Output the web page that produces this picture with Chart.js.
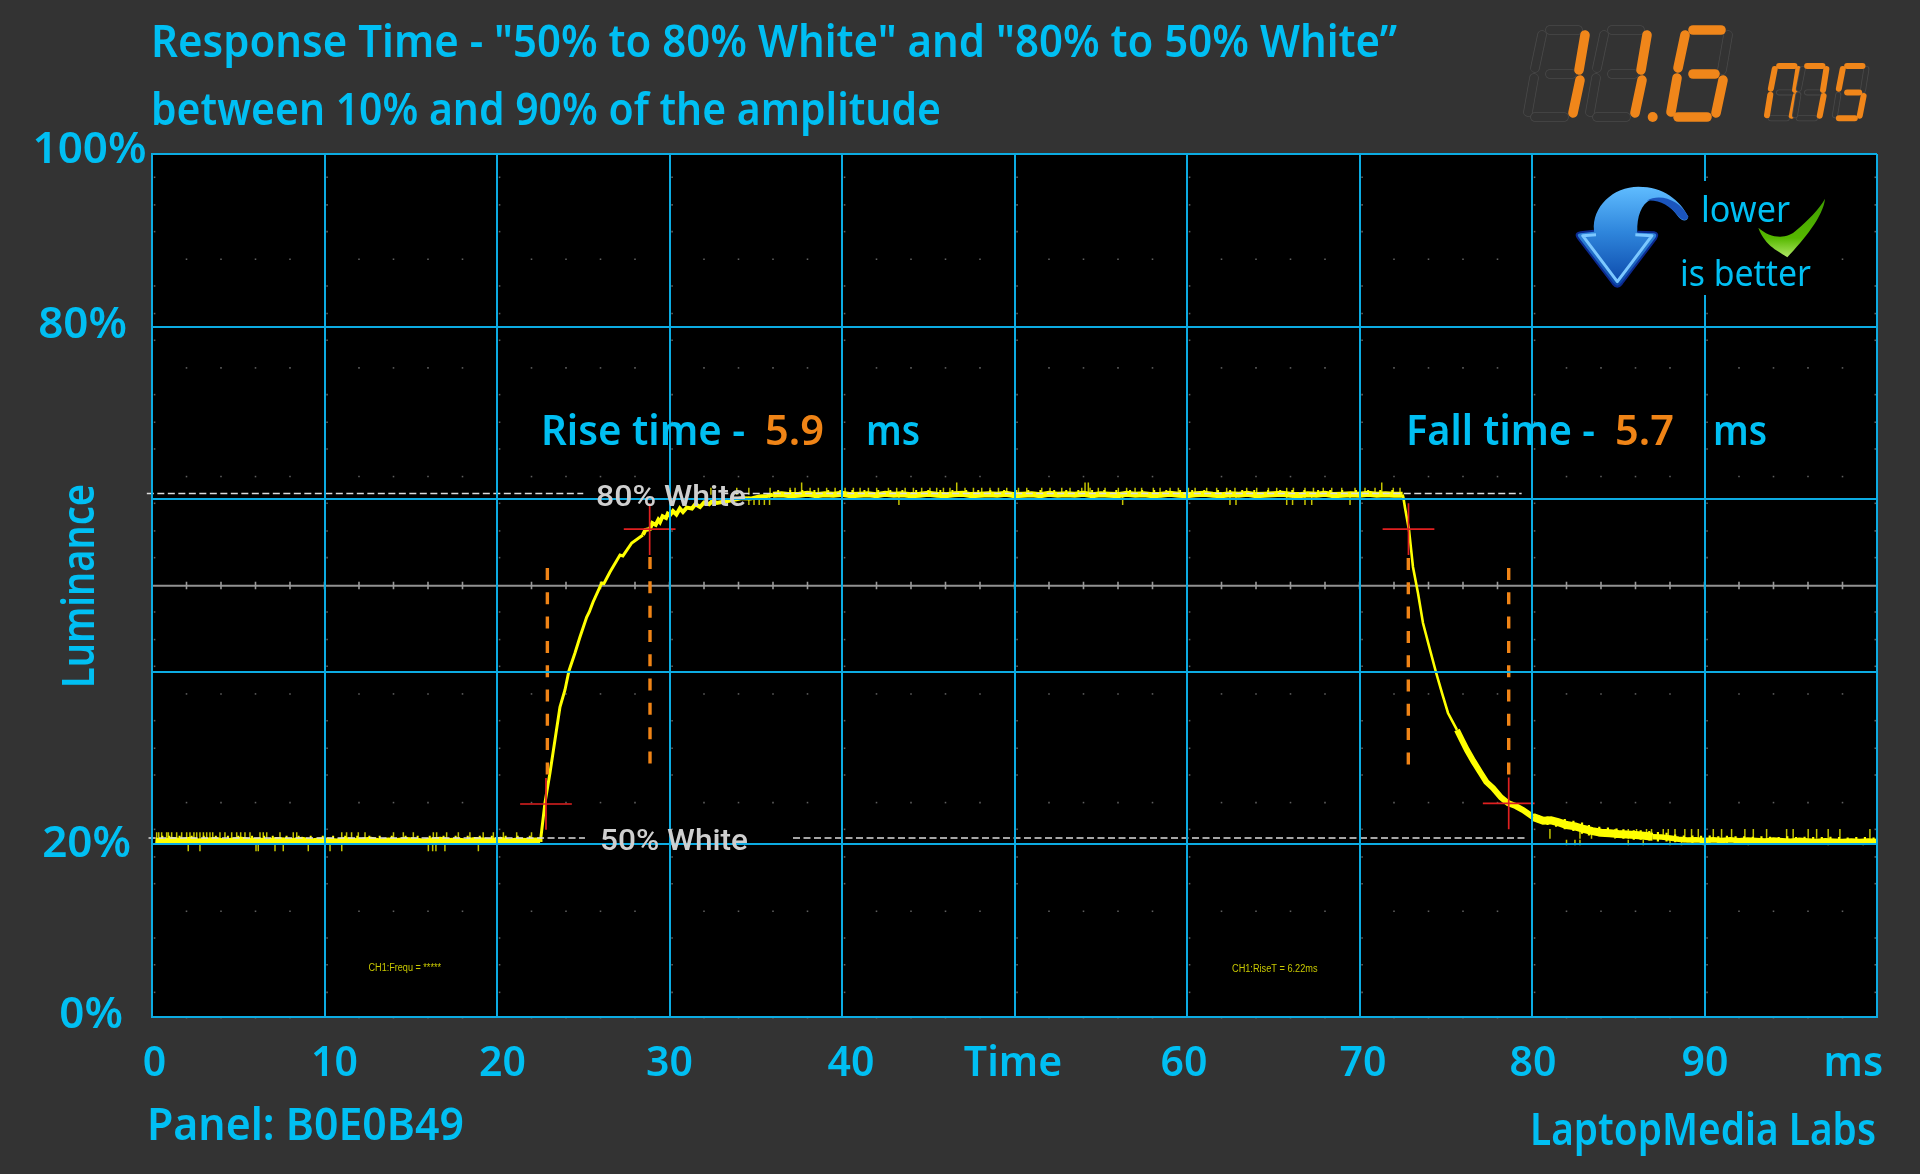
<!DOCTYPE html>
<html><head><meta charset="utf-8">
<style>html,body{margin:0;padding:0;background:#333}canvas{display:block}</style>
<script src="https://cdn.jsdelivr.net/npm/chart.js@4"></script>
</head><body><canvas id="c" width="1920" height="1174"></canvas>
<script>
// ---------- chart values (ms on x, luminance % on y) ----------
const xTickValues=[0,10,20,30,40,50,60,70,80,90,100];
const xTickLabels=['0','10','20','30','40','Time','60','70','80','90','ms'];
const yTickValues=[0,20,40,60,80,100];
const yTickLabels=['0%','20%','','','80%','100%'];

const lowTimes=[0.2,0.7,1.2,1.7,2.2,2.7,3.2,3.7,4.2,4.7,5.2,5.7,6.2,6.7,7.2,7.7,8.2,8.7,9.2,9.7,10.2,10.7,11.2,11.7,12.2,12.7,13.2,13.7,14.2,14.7,15.2,15.7,16.2,16.7,17.2,17.7,18.2,18.7,19.2,19.7,20.2,20.7,21.2,21.7,22.2,22.5];
const lowLevels=[20.4,20.3,20.45,20.35,20.5,20.3,20.4,20.45,20.3,20.4,20.5,20.35,20.4,20.3,20.45,20.4,20.35,20.5,20.3,20.4,20.4,20.3,20.45,20.35,20.4,20.5,20.3,20.4,20.35,20.45,20.4,20.3,20.4,20.5,20.35,20.4,20.3,20.45,20.4,20.35,20.5,20.3,20.4,20.35,20.4,20.4];

const riseTimes=[22.5,22.55,22.78,23.07,23.36,23.65,23.94,24.17,24.52,24.81,25.2,25.35,25.57,26.07,26.2,26.55,27.13,27.3,27.81,28.46];
const riseLevels=[20.4,20.85,24.75,28.23,32.06,35.88,37.86,40.06,42.14,44.0,46.32,46.9,48.06,50.26,50.2,51.54,53.51,53.4,54.9,55.83];
const settleTimes=[28.46,28.6,28.87,29.0,29.2,29.35,29.45,29.6,29.8,29.9,30.03,30.2,30.4,30.6,30.78,31.0,31.3,31.5,31.77,32.0,32.3,32.5,32.75,33.2,33.68,34.2,34.7,35.2,35.65,36.0];
const settleLevels=[55.83,56.4,56.52,57.2,57.0,57.6,57.33,58.0,57.8,58.3,58.14,58.6,58.2,58.9,58.49,59.0,58.9,59.4,59.07,59.6,59.4,59.8,59.54,59.7,59.88,60.1,60.05,60.3,60.35,60.5];

const highTimes=[36,36.5,37,37.5,38,38.5,39,39.5,40,40.5,41,41.5,42,42.5,43,43.5,44,44.5,45,45.5,46,46.5,47,47.5,48,48.5,49,49.5,50,50.5,51,51.5,52,52.5,53,53.5,54,54.5,55,55.5,56,56.5,57,57.5,58,58.5,59,59.5,60,60.5,61,61.5,62,62.5,63,63.5,64,64.5,65,65.5,66,66.5,67,67.5,68,68.5,69,69.5,70,70.5,71,71.5,72,72.5];
const highLevels=[60.5,60.55,60.45,60.5,60.6,60.45,60.55,60.5,60.6,60.45,60.5,60.55,60.45,60.6,60.5,60.55,60.45,60.5,60.6,60.5,60.45,60.55,60.6,60.45,60.5,60.55,60.5,60.6,60.45,60.5,60.55,60.45,60.6,60.5,60.55,60.5,60.6,60.45,60.55,60.5,60.45,60.6,60.5,60.55,60.45,60.5,60.6,60.5,60.45,60.55,60.6,60.5,60.45,60.55,60.5,60.6,60.45,60.5,60.55,60.6,60.5,60.45,60.55,60.5,60.6,60.45,60.5,60.55,60.5,60.6,60.5,60.55,60.5,60.5];

const fallTimes=[72.5,72.54,72.64,72.87,73.1,73.39,73.68,74.09,74.43,74.78,75.13,75.65];
const fallLevels=[60.5,60.2,58.96,56.41,52.12,49.1,45.62,42.49,39.94,37.51,35.19,33.22];
const decayTimes=[75.65,75.95,76.23,76.6,76.99,77.35,77.74,78.2,78.61,79.05,79.48,80.06];
const decayLevels=[33.22,32.0,30.9,29.6,28.35,27.2,26.49,25.4,24.75,24.4,23.94,23.13];
const tailNearTimes=[80.06,80.65,81.1,81.5,82,82.5,83,83.5,84,84.5,85,85.5,86,86.5,87];
const tailNearLevels=[23.13,22.7,22.75,22.55,22.2,22.05,21.74,21.5,21.31,21.25,21.16,21.1,21.04,20.95,20.85];
const tailFarTimes=[87,87.5,88,88.5,89,89.5,90,90.5,91,91.5,92,92.5,93,93.5,94,94.5,95,95.5,96,96.5,97,97.5,98,98.5,99,99.5,100];
const tailFarLevels=[20.85,20.8,20.7,20.55,20.46,20.5,20.42,20.5,20.4,20.48,20.38,20.45,20.4,20.35,20.45,20.38,20.32,20.42,20.35,20.3,20.38,20.32,20.28,20.36,20.3,20.34,20.3];

const lowUpSpikes=[0.27,0.39,0.56,0.85,0.95,1.14,1.43,1.72,2.01,2.2,2.43,2.59,2.78,2.98,3.17,3.36,3.52,3.94,4.23,4.62,4.91,5.14,5.39,5.68,6.26,6.45,6.65,7.42,8.19,8.39,11.0,11.28,11.57,11.96,12.35,14.0,14.57,15.15,16.31,16.5,17.08,17.76,18.43,19.2,19.79,20.37,21.14,22.0];
const lowDownSpikes=[2.1,2.78,6.03,6.16,7.13,7.61,9.06,10.32,11.0,16.02,16.27,16.46,16.98,18.92];
const highUpSpikes=[32.4,33.1,33.9,34.6,35.83,36.99,37.28,38.15,38.63,39.11,39.6,40.18,40.66,41.05,41.53,42.01,42.69,43.17,43.66,44.14,44.62,45.1,45.49,45.88,46.26,47.13,47.62,48.1,48.58,49.07,49.55,50.23,50.71,51.58,52.06,52.74,53.22,53.9,54.38,54.86,55.25,56.02,56.5,56.99,57.37,58.05,58.44,59.02,59.5,60.08,60.47,61.14,61.72,62.3,62.78,63.46,64.04,64.72,65.2,65.78,66.17,66.84,67.33,67.9,68.39,68.97,69.74,70.32,70.9,71.96,72.35];
const highTallSpikes=[37.66,46.65,54.09,54.28,71.29];
const highDownSpikes=[34.6,34.9,35.2,35.5,35.8,43.3,56.27,62.49,62.84,65.78,66.12,66.84,67.23,69.45];
const tailUpSpikes=[81.04,82.78,83.45,84.81,85.58,86.06,86.64,86.93,87.61,87.9,88.29,88.86,89.25,89.64,90.51,90.99,91.57,92.34,92.83,93.6,94.76,95.14,96.01,96.5,97.17,97.85,99.59];
const tailDownSpikes=[82.0,82.49,82.78,85.58,86.45,88,88.67,89.93,92.54,97.17,99.2];
// short fringe of the noisy band
const lowFringe=[0.6,1.0,1.6,2.3,3.0,3.7,4.4,5.0,5.8,6.5,7.0,7.8,8.5,9.2,9.9,10.5,11.2,11.9,12.6,13.2,13.9,14.7,15.4,16.1,16.9,17.6,18.3,19.0,19.7,20.5,21.2,21.9];
const highFringe=[36.3,37.0,37.7,38.4,39.2,39.9,40.6,41.3,42.1,42.8,43.5,44.3,45.0,45.7,46.4,47.2,47.9,48.6,49.4,50.1,50.8,51.5,52.3,53.0,53.7,54.5,55.2,55.9,56.7,57.4,58.1,58.8,59.6,60.3,61.0,61.8,62.5,63.2,63.9,64.7,65.4,66.1,66.8,67.6,68.3,69.0,69.8,70.5,71.2,71.9];
const tailFringe=[80.4,80.9,81.4,81.9,82.4,82.9,83.3,83.9,84.4,84.9,85.3,85.9,86.3,86.8,87.3,87.8,88.3,88.8,89.3,89.8,90.3,90.8,91.3,91.8,92.3,92.8,93.3,93.8,94.3,94.8,95.3,95.8,96.3,96.8,97.3,97.8,98.3,98.8,99.3,99.8];
const tailFringeTops=[23.3,23.2,23.0,22.9,22.7,22.5,22.2,22.0,21.9,21.8,21.7,21.6,21.6,21.5,21.4,21.3,21.1,21.0,21.0,20.95,21.0,20.9,20.95,20.9,20.9,20.85,20.9,20.85,20.8,20.9,20.8,20.85,20.8,20.8,20.85,20.8,20.75,20.8,20.8,20.75];
const tailFringeBottoms=[22.5,22.2,22.0,21.7,21.5,21.2,21.0,20.9,20.8,20.7,20.6,20.5,20.5,20.4,20.3,20.3,20.2,20.2,20.1,20.1,20.15,20.1,20.1,20.15,20.05,20.1,20.1,20.05,20.1,20.05,20.1,20.05,20.05,20.1,20.0,20.05,20.05,20.0,20.05,20.0];

const white80Times=[-0.3,25.0,33.0,79.4];
const white80Levels=[60.64,60.64,60.64,60.64];
const white50Times=[-0.2,25.1,37.16,79.6];
const white50Levels=[20.7,20.7,20.7,20.7];

const crossTimes=[22.84,28.85,72.84,78.65];
const crossLevels=[24.64,56.5,56.5,24.7];
const markerTimes=[22.92,28.87,72.83,78.65];
const markerTops=[52.0,53.27,53.16,52.0];
const markerBottoms=[28.0,29.28,29.04,28.0];

const graticuleTimes=[2,4,6,8,12,14,16,18,22,24,26,28,32,34,36,38,42,44,46,48,52,54,56,58,62,64,66,68,72,74,76,78,82,84,86,88,92,94,96,98];
const graticuleRows=[-0.15,12.2,24.8,37.4,62.6,75.2,87.8];
const graticuleColumns=[0.15,10.15,20.15,30.15,40.15,50.15,60.15,70.15,80.15,90.15,99.9];
const graticuleLevels=[2.8,6,9.1,15.4,18.5,21.7,28,31.1,34.3,40.6,43.7,46.9,53.2,56.3,59.5,65.8,68.9,72.1,78.4,81.5,84.7,91,94.1,97.3];

// ---------- styling ----------
const CYAN='#00BFF3', GRID='#0cabe2', ORANGE='#F08416', YEL='#FFFF00', SPIKE='#C4C400';
const FAMILY='"Noto Sans"';
const labelNudges={'0':[2.6,0],'10':[10,0],'20':[5.5,0],'30':[0,0],'40':[9,0],'Time':[-1.5,0],'60':[-3,0],'70':[3.5,0],'80':[1,0],'90':[0.5,0],'ms':[-23.6,0]};
const yNudges={'100%':[0,-4],'80%':[-19.5,-1],'20%':[-15.5,0.5],'0%':[-23.5,-1.5]};

function zip(xs,ys){return xs.map((x,i)=>({x,y:ys[i]}));}
function trace(label,xs,ys,color,width,extra){
  return Object.assign({label,data:zip(xs,ys),borderColor:color,borderWidth:width,pointRadius:0,tension:0,fill:false,borderJoinStyle:'miter'},extra||{});
}
function spikes(label,times,base,tip,color,width){
  const d=[];times.forEach((t,i)=>{
    d.push({x:t,y:Array.isArray(base)?base[i]:base},{x:t,y:Array.isArray(tip)?tip[i]:tip},{x:t,y:null});});
  return {label,data:d,borderColor:color,borderWidth:width||1.5,pointRadius:0,spanGaps:false};
}
function dots(label,pts){
  return {label,data:pts,showLine:false,pointRadius:1.1,pointStyle:'rect',pointBackgroundColor:'#5f5f5f',pointBorderWidth:0,clip:false};
}
function crossData(){
  const d=[];crossTimes.forEach((t,i)=>{const v=crossLevels[i];
    d.push({x:t-1.5,y:v},{x:t+1.5,y:v},{x:t,y:null},{x:t,y:v+3},{x:t,y:v-3},{x:t,y:null});});
  return d;
}
function markerData(){
  return markerTimes.map((t,i)=>trace('marker'+i,[t,t],[markerTops[i],markerBottoms[i]],ORANGE,3.4,{borderDash:[12,12.3]}));
}
const rowDots=[];graticuleRows.forEach(r=>graticuleTimes.forEach(t=>rowDots.push({x:t,y:r})));
const colDots=[];graticuleColumns.forEach(c=>graticuleLevels.forEach(l=>colDots.push({x:c,y:l})));
const centerTicks=spikes('center ticks',graticuleTimes.concat([10,20,30,40,50,60,70,80,90]),49.55,50.4,'#9a9a9a',1.6);

// bottom-most first; reversed for Chart.js, which paints dataset 0 last
const layers=[
  dots('graticule rows',rowDots),
  dots('graticule columns',colDots),
  trace('center line',[0,100],[49.95,49.95],'#929292',2),
  centerTicks,
  spikes('low up',lowUpSpikes,20.4,21.35,SPIKE),
  spikes('low down',lowDownSpikes,20.4,19.15,SPIKE),
  spikes('high up',highUpSpikes,60.5,61.3,SPIKE),
  spikes('high tall',highTallSpikes,60.5,61.9,SPIKE),
  spikes('high down',highDownSpikes,60.3,59.3,SPIKE),
  spikes('tail up',tailUpSpikes,20.6,21.75,SPIKE),
  spikes('tail down',tailDownSpikes,20.5,19.85,SPIKE),
  trace('low',lowTimes,lowLevels,YEL,6),
  spikes('low fringe',lowFringe,20.4,20.95,YEL,2),
  trace('rise',riseTimes,riseLevels,YEL,3),
  trace('settle',settleTimes,settleLevels,YEL,4),
  trace('high',highTimes,highLevels,YEL,6),
  spikes('high fringe',highFringe,60.5,61.05,YEL,2),
  trace('fall',fallTimes,fallLevels,YEL,2.6),
  trace('decay',decayTimes,decayLevels,YEL,6),
  trace('tail near',tailNearTimes,tailNearLevels,YEL,8),
  trace('tail far',tailFarTimes,tailFarLevels,YEL,5.5),
  spikes('tail fringe',tailFringe,tailFringeBottoms,tailFringeTops,YEL,2.2),
  trace('white 80 a',white80Times.slice(0,2),white80Levels.slice(0,2),'#dcdcdc',1.5,{borderDash:[7,3.5],clip:false}),
  trace('white 80 b',white80Times.slice(2),white80Levels.slice(2),'#dcdcdc',1.5,{borderDash:[7,3.5]}),
  trace('white 50 a',white50Times.slice(0,2),white50Levels.slice(0,2),'#dcdcdc',1.5,{borderDash:[7,3.5],clip:false}),
  trace('white 50 b',white50Times.slice(2),white50Levels.slice(2),'#dcdcdc',1.5,{borderDash:[7,3.5]}),
  ...markerData(),
  {label:'cross',data:crossData(),borderColor:'#e02020',borderWidth:1.7,pointRadius:0,spanGaps:false}
];

// ---------- text placed on the figure ----------
const textItems=[
  ['Response Time - "50% to 80% White" and "80% to 50% White”',151,57,45,CYAN,1246,600],
  ['between 10% and 90% of the amplitude',151,125,45,CYAN,790,600],
  ['Rise time -',541,445,41,CYAN,204,600],
  ['5.9',765,445,41,ORANGE,59,600],
  ['ms',866,445,41,CYAN,54,600],
  ['Fall time -',1406,445,41,CYAN,189,600],
  ['5.7',1615,445,41,ORANGE,59,600],
  ['ms',1713,445,41,CYAN,54,600],
  ['Panel: B0E0B49',147,1140,45,CYAN,317,600],
  ['LaptopMedia Labs',1530,1145,45,CYAN,346,600],
  ['lower',1701,222,37,CYAN,89,400],
  ['is better',1680,286,37,CYAN,131,400]
];
const smallItems=[
  ['80% White',596,506,29,'#cfcfcf',150,'Roboto',500],
  ['50% White',600,850,29,'#cfcfcf',148,'Roboto',500],
  ['CH1:Frequ = *****',368.5,970.5,10,'#c8c800',72.5,'"Liberation Sans"',400],
  ['CH1:RiseT = 6.22ms',1232,971.5,10,'#c8c800',85.5,'"Liberation Sans"',400]
];

function fit(ctx,text,x,y,size,color,width,family,weight,rot){
  ctx.save();
  ctx.font=weight+' '+size+'px '+family;
  ctx.fillStyle=color;ctx.textAlign='left';ctx.textBaseline='alphabetic';
  const m=ctx.measureText(text).width;
  ctx.translate(x,y);
  if(rot)ctx.rotate(rot);
  ctx.scale(width/m,1);
  ctx.fillText(text,0,0);
  ctx.restore();
}

// seven-segment read-out
const SEG={a:[[1693,30],[1721,30]],f:[[1685,35],[1678,68]],b:[[1728,35],[1722,70]],g:[[1693,74],[1715,74]],e:[[1677,78],[1671,112]],c:[[1723,80],[1716,113]],d:[[1678,117],[1707,117]]};
function seg(ctx,k,ox,oy,sx,sy,w,lit){
  const p=SEG[k];
  const X=x=>ox+(x-1671)*sx, Y=y=>oy+(y-30)*sy;
  const stroke=(c,lw)=>{ctx.strokeStyle=c;ctx.lineWidth=lw;ctx.lineCap='round';ctx.beginPath();ctx.moveTo(X(p[0][0]),Y(p[0][1]));ctx.lineTo(X(p[1][0]),Y(p[1][1]));ctx.stroke();};
  if(lit)stroke('#F0861A',w);else{stroke('#4a4a4a',w);stroke('#333333',w-1.6);}
}
function digit(ctx,on,ox,oy,sx,sy,w){
  'abcdefg'.split('').forEach(k=>{if(!on.includes(k))seg(ctx,k,ox,oy,sx,sy,w,false);});
  'abcdefg'.split('').forEach(k=>{if(on.includes(k))seg(ctx,k,ox,oy,sx,sy,w,true);});
}

function logo(ctx){
  ctx.save();
  ctx.fillStyle='#000';ctx.fillRect(1565,181,265,114);
  ctx.translate(1450,0);ctx.scale(1/3,1/3);
  const g=ctx.createLinearGradient(0,560,0,860);
  g.addColorStop(0,'#5fbcff');g.addColorStop(0.45,'#2f86dc');g.addColorStop(1,'#0a46a8');
  const body=new Path2D('M432 692 C425 620 490 560 565 560 C640 560 690 600 715 650 C710 668 695 662 685 650 C660 612 620 592 600 600 C575 612 560 650 562 695 L612 697 Q628 700 618 716 L515 852 Q502 868 489 852 L385 716 Q372 700 392 697 Z');
  ctx.fillStyle=g;ctx.fill(body);
  ctx.strokeStyle='#0c2a90';ctx.lineWidth=6;
  ctx.stroke(new Path2D('M432 692 L392 697 Q372 700 385 716 L489 852 Q502 868 515 852 L618 716 Q628 700 612 697 L562 695'));
  ctx.strokeStyle='#7cc8ff';ctx.lineWidth=9;ctx.lineJoin='round';
  ctx.stroke(new Path2D('M438 704 L398 707 L502 845 L606 707 L556 704'));
  ctx.fillStyle='#1b55bd';
  ctx.fill(new Path2D('M590 602 C630 578 690 600 715 650 C708 668 692 658 682 646 C660 616 625 598 590 602 Z'));
  const t=ctx.createLinearGradient(0,600,0,775);
  t.addColorStop(0,'#3f9e00');t.addColorStop(0.65,'#56b800');t.addColorStop(1,'#b4ea6a');
  ctx.fillStyle=t;
  ctx.fill(new Path2D('M925 683 C960 715 1010 720 1040 690 C1070 665 1110 625 1125 596 C1120 650 1060 720 1012 772 C990 755 945 740 925 683 Z'));
  ctx.restore();
}

const overlay={
  id:'overlay',
  beforeDraw(c){
    const x=c.ctx,a=c.chartArea;
    x.save();x.fillStyle='#333333';x.fillRect(0,0,c.width,c.height);
    x.fillStyle='#000';x.fillRect(a.left,a.top,a.right-a.left,a.bottom-a.top);x.restore();
  },
  afterDraw(c){
    const x=c.ctx;
    logo(x);
    textItems.forEach(t=>fit(x,t[0],t[1],t[2],t[3],t[4],t[5],FAMILY,t[6]));
    smallItems.forEach(t=>fit(x,t[0],t[1],t[2],t[3],t[4],t[5],t[6],t[7]));
    fit(x,'Luminance',94,688,45,CYAN,204,FAMILY,600,-Math.PI/2);
    digit(x,'bc',1528,30,1,1,9.6);
    digit(x,'bc',1590,30,1,1,9.6);
    digit(x,'afedcg',1671,30,1,1,9.6);
    x.fillStyle='#F0861A';x.beginPath();x.arc(1652.7,117,5,0,Math.PI*2);x.fill();
    digit(x,'afbec',1767,66,0.55,0.6,6);
    digit(x,'abc',1795,66,0.55,0.6,6);
    digit(x,'afgcd',1835,66,0.55,0.6,6);
  }
};

function nudge(scale,map){
  if(scale._nudged)return;
  const f=scale._computeLabelItems;
  scale._computeLabelItems=function(a){
    const items=f.call(this,a);
    items.forEach(i=>{const n=map[i.label];if(n){i.options.translation=[i.options.translation[0]+n[0],i.options.translation[1]+n[1]];}});
    return items;
  };
  scale._nudged=true;
}

new Chart(document.getElementById('c'),{
  type:'line',
  data:{datasets:layers.slice().reverse()},
  plugins:[overlay],
  options:{
    responsive:false,animation:false,devicePixelRatio:1,parsing:true,
    layout:{padding:{top:154,right:43,left:0,bottom:0}},
    plugins:{legend:{display:false},tooltip:{enabled:false},title:{display:false}},
    scales:{
      x:{type:'linear',min:0,max:100,
        afterBuildTicks(s){s.ticks=xTickValues.map(v=>({value:v}));},
        afterFit(s){s.height=157.5;s.paddingLeft=0;s.paddingRight=0;nudge(s,labelNudges);},
        grid:{color:GRID,lineWidth:2,z:1,drawTicks:false},
        border:{color:GRID,width:2,z:1},
        ticks:{color:CYAN,font:{family:FAMILY,size:41,weight:'600'},padding:23.5,autoSkip:false,maxRotation:0,
          callback:(v)=>xTickLabels[xTickValues.indexOf(v)]}
      },
      y:{type:'linear',min:0,max:100,
        afterBuildTicks(s){s.ticks=yTickValues.map(v=>({value:v}));},
        afterFit(s){s.width=152;s.paddingTop=0;s.paddingBottom=0;nudge(s,yNudges);},
        grid:{color:GRID,lineWidth:2,z:1,drawTicks:false},
        border:{color:GRID,width:2,z:1},
        ticks:{color:CYAN,font:{family:FAMILY,size:44,weight:'600'},padding:5.5,autoSkip:false,
          callback:(v)=>yTickLabels[yTickValues.indexOf(v)]}
      }
    }
  }
});
</script></body></html>
